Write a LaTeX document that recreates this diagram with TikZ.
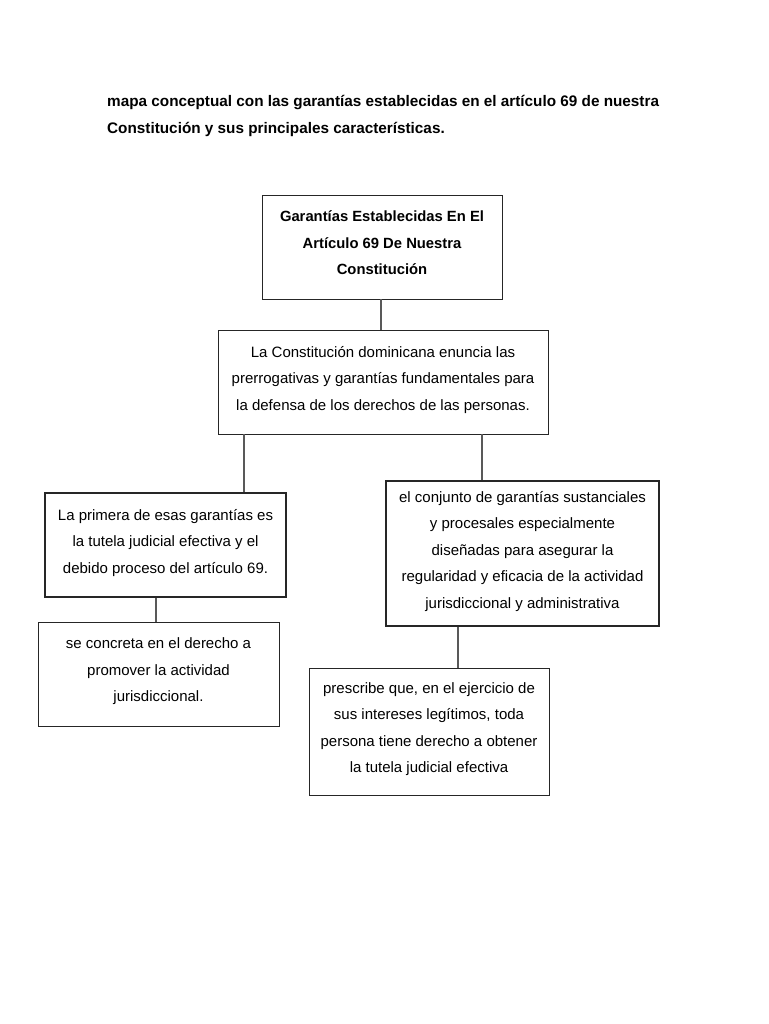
\documentclass[tikz,border=0pt]{standalone}
\usepackage{fontspec}
\setmainfont{Liberation Sans}
\usepackage{tikz}

\begin{document}
\begin{tikzpicture}[x=1pt,y=-1pt,
    caja/.style={draw=black!85,line width=0.8pt,align=center,inner sep=0pt,
        text depth=8pt,font=\fontsize{15}{26.5}\selectfont},
    cajagruesa/.style={caja,line width=1.7pt},
    enlace/.style={draw=black!65,line width=1.3pt}]
    \useasboundingbox[fill=white] (0,0) rectangle (768,1024);
    % encabezado
    \node[anchor=north west,inner sep=0pt,align=left,
        font=\bfseries\fontsize{15.3}{27}\selectfont] (encabezado) at (107,95)
        {mapa conceptual con las garantías establecidas en el artículo 69 de nuestra\\
         Constitución y sus principales características.};
    % cajas
    \node[caja,minimum width=240,minimum height=104,font=\bfseries\fontsize{14.8}{26.5}\selectfont]
        (titulo) at (382,247) {Garantías Establecidas En El\\Artículo 69 De Nuestra\\Constitución};
    \node[caja,minimum width=330,minimum height=104] (intro) at (383,382)
        {La Constitución dominicana enuncia las\\prerrogativas y garantías fundamentales para\\la defensa de los derechos de las personas.};
    \node[cajagruesa,minimum width=241,minimum height=104] (primera) at (165.5,545)
        {La primera de esas garantías es\\la tutela judicial efectiva y el\\debido proceso del artículo 69.};
    \node[cajagruesa,minimum width=273,minimum height=145] (conjunto) at (522.5,553.5)
        {el conjunto de garantías sustanciales\\y procesales especialmente\\diseñadas para asegurar la\\regularidad y eficacia de la actividad\\jurisdiccional y administrativa};
    \node[caja,minimum width=241,minimum height=104] (concreta) at (158.5,674)
        {se concreta en el derecho a\\promover la actividad\\jurisdiccional.};
    \node[caja,minimum width=240,minimum height=127] (prescribe) at (429,731.5)
        {prescribe que, en el ejercicio de\\sus intereses legítimos, toda\\persona tiene derecho a obtener\\la tutela judicial efectiva};
    % enlaces
    \coordinate (e1) at (381,0);
    \coordinate (e2) at (244,0);
    \coordinate (e3) at (482,0);
    \coordinate (e4) at (156,0);
    \coordinate (e5) at (458,0);
    \draw[enlace] (titulo.south -| e1) -- (intro.north -| e1);
    \draw[enlace] (intro.south -| e2) -- (primera.north -| e2);
    \draw[enlace] (intro.south -| e3) -- (conjunto.north -| e3);
    \draw[enlace] (primera.south -| e4) -- (concreta.north -| e4);
    \draw[enlace] (conjunto.south -| e5) -- (prescribe.north -| e5);
\end{tikzpicture}
\end{document}
